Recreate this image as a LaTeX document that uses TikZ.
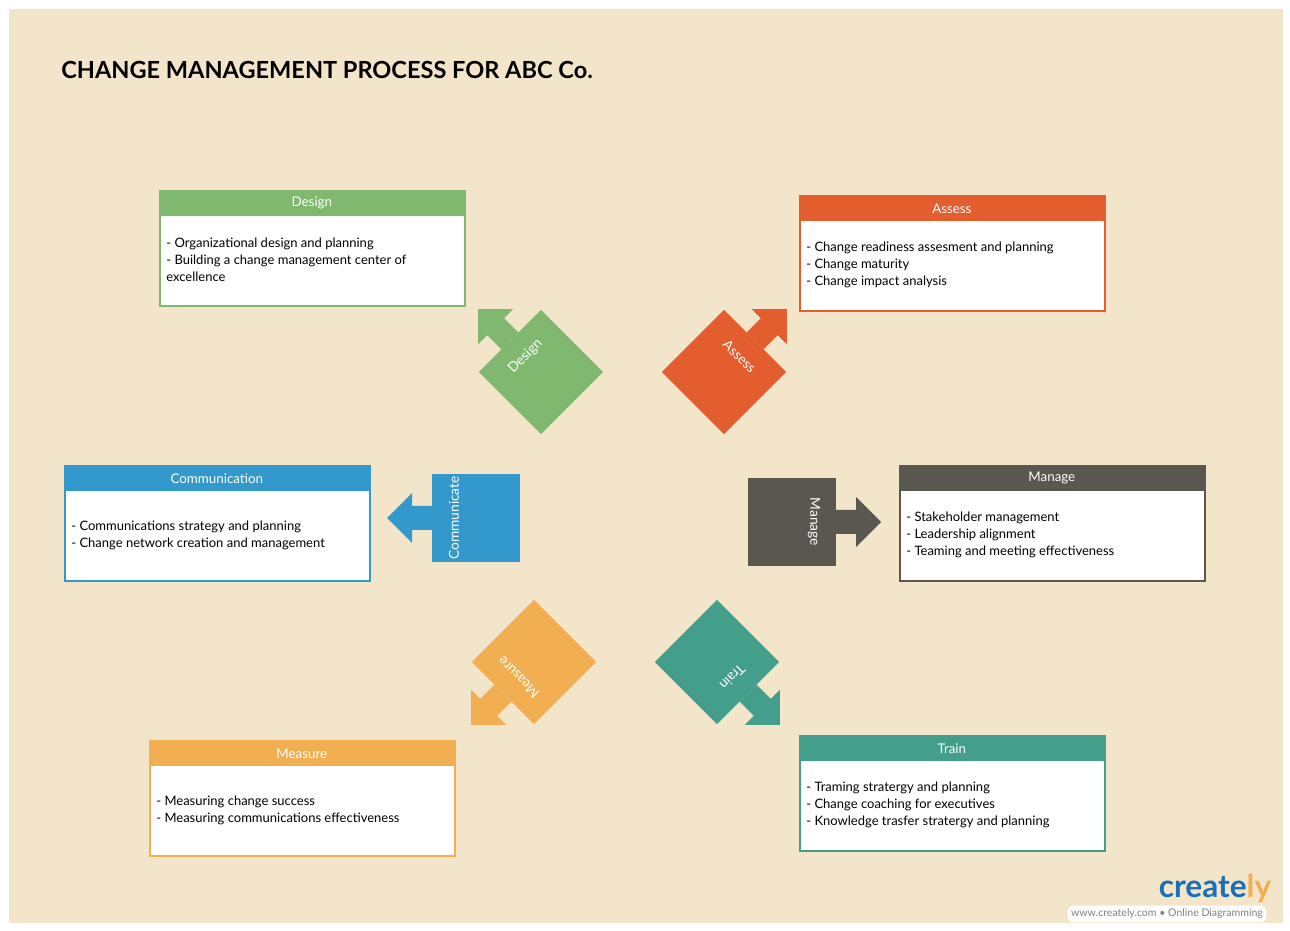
\documentclass[tikz,border=0pt]{standalone}
\usepackage{fontspec}
\setmainfont{Lato}
\usepackage{xcolor}
\usetikzlibrary{positioning,arrows.meta}

\definecolor{bgcream}{HTML}{F3E5CA}
\definecolor{cgreen}{HTML}{80B86F}
\definecolor{corange}{HTML}{E35D2E}
\definecolor{cblue}{HTML}{3399CC}
\definecolor{cdark}{HTML}{5A5650}
\definecolor{cyellow}{HTML}{F2AF52}
\definecolor{cteal}{HTML}{439F8C}
\definecolor{cbrand}{HTML}{1A6FB8}

\tikzset{
  infobox/.style={draw=#1, line width=1.2pt, fill=white, minimum width=305*0.02cm, minimum height=115*0.02cm, anchor=north west, inner sep=0pt},
  headbar/.style={fill=#1, text=white, minimum width=305*0.02cm, minimum height=26*0.02cm, anchor=north west, inner sep=0pt, font=\fontsize{7.6}{9}\selectfont},
  itemtext/.style={align=left, anchor=west, inner sep=0pt, font=\fontsize{7.4}{9.6}\selectfont},
  keylabel/.style={text=white, inner sep=0pt, font=\fontsize{7.8}{9}\selectfont},
}

% square with an arrow leaving one side: center, direction, colour, name, label
\newcommand{\keyshape}[5]{%
  \begin{scope}[shift={#1}, rotate=#2]
    \fill[#3] (-44,-44) rectangle (44,44);
    \fill[#3] (44,-12) -- (64,-12) -- (64,-25) -- (89,0) -- (64,25) -- (64,12) -- (44,12) -- cycle;
    \node[keylabel, rotate=#2-90] (#4) at (22,0) {#5};
  \end{scope}}

\newcommand{\infocard}[5]{%
  \node[infobox=#2] (#1) at #3 {};
  \node[headbar=#2] (#1head) at (#1.north west) {#4};
  \node[itemtext] (#1text) at ([xshift=7*0.02cm, yshift=-70*0.02cm]#1.north west) {#5};}

\begin{document}
\begin{tikzpicture}[x=0.02cm, y=0.02cm]
\useasboundingbox (0,0) rectangle (1290,930);
\fill[white] (0,0) rectangle (1290,930);
\fill[bgcream] (9,7) rectangle (1283,921);

\node[anchor=west, inner sep=0pt, font=\bfseries\fontsize{13.4}{15}\selectfont] (title) at (61,860) {CHANGE MANAGEMENT PROCESS FOR ABC Co.};

% keys round the centre
\keyshape{(541,558)}{135}{cgreen}{kdesign}{Design}
\keyshape{(724,558)}{45}{corange}{kassess}{Assess}
\keyshape{(476,412)}{180}{cblue}{kcomm}{Communicate}
\keyshape{(792,408)}{0}{cdark}{kmanage}{Manage}
\keyshape{(534,268)}{225}{cyellow}{kmeasure}{Measure}
\keyshape{(717,268)}{315}{cteal}{ktrain}{Train}

% cards
\infocard{design}{cgreen}{(159,740)}{Design}{- Organizational design and planning\\- Building a change management center of\\excellence}
\infocard{assess}{corange}{(799,735)}{Assess}{- Change readiness assesment and planning\\- Change maturity\\- Change impact analysis}
\infocard{comm}{cblue}{(64,465)}{Communication}{- Communications strategy and planning\\- Change network creation and management}
\infocard{manage}{cdark}{(899,465)}{Manage}{- Stakeholder management\\- Leadership alignment\\- Teaming and meeting effectiveness}
\infocard{measure}{cyellow}{(149,190)}{Measure}{- Measuring change success\\- Measuring communications effectiveness}
\infocard{train}{cteal}{(799,195)}{Train}{- Traming stratergy and planning\\- Change coaching for executives\\- Knowledge trasfer stratergy and planning}

% brand mark
\node[fill=white, rounded corners=3pt, inner sep=2pt, font=\fontsize{6}{7}\selectfont, text=gray] (brandline) at (1167,16) {www.creately.com \textbullet{} Online Diagramming};
\node[font=\bfseries\fontsize{18}{20}\selectfont, text=cbrand] (brand) at (1215,42) {create\textcolor{cyellow}{ly}};
\end{tikzpicture}
\end{document}
